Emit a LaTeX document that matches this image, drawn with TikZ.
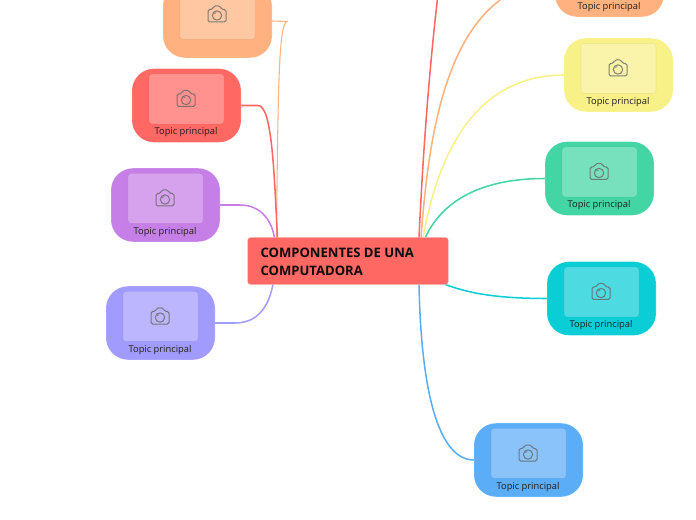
\documentclass[tikz,border=0pt]{standalone}
\usepackage{fontspec}
\setmainfont{Open Sans}
\definecolor{cOrange}{HTML}{FFB27F}
\definecolor{cRed}{HTML}{FF6863}
\definecolor{cPurple}{HTML}{C77FE8}
\definecolor{cLav}{HTML}{A29BFE}
\definecolor{cYellow}{HTML}{F7F188}
\definecolor{cGreen}{HTML}{43D6A4}
\definecolor{cTeal}{HTML}{0ACDD6}
\definecolor{cBlue}{HTML}{5CADF8}
\tikzset{
  x=0.75pt,y=-0.75pt,
  topicbox/.style={rectangle,rounded corners=16.5pt,minimum width=81.75pt,minimum height=55.2pt,inner sep=0pt,fill=#1,draw=white,draw opacity=.25,line width=.4pt},
  imgbox/.style={rectangle,rounded corners=2.5pt,minimum width=56.25pt,minimum height=37.5pt,inner sep=0pt,fill=white,fill opacity=.28,draw=black,draw opacity=.04,line width=.5pt},
  toplabel/.style={inner sep=0pt,font=\fontsize{7pt}{9pt}\selectfont,text=black!88},
  roottext/.style={inner sep=0pt,align=left,font=\fontsize{9.8pt}{13.5pt}\selectfont\bfseries,text=black!95},
  rootbox/.style={rectangle,rounded corners=2.2pt,minimum width=150.5pt,minimum height=35.5pt,inner sep=0pt,fill=cRed,draw=white,draw opacity=.5,line width=.4pt},
  link/.style={line width=1.15pt,draw=#1},
  camline/.style={draw=black!60,draw opacity=.8,line width=.75pt},
}
\newcommand{\camicon}[2]{%
  \begin{scope}[shift={(#1,#2)}]
    \draw[camline,rounded corners=1.2pt] (-9,-4.5) -- (-4.5,-4.5) -- (-3.3,-8) -- (3.3,-8) -- (4.5,-4.5) -- (9,-4.5) -- (9,8) -- (-9,8) -- cycle;
    \draw[camline] (0,1.5) circle[radius=3.5pt];
    \draw[camline,line width=.5pt] (-2.6,-0.4) -- (-0.8,-1.5);
  \end{scope}}
\newcommand{\topicbody}[4]{%
  \node[topicbox=#2] (#1) at (#3,#4) {};
  \node[imgbox] (#1img) at ([yshift=4.9pt]#1.center) {};
  \camicon{#3-0.5}{#4-7}}
\newcommand{\topicnode}[4]{%
  \topicbody{#1}{#2}{#3}{#4}
  \node[toplabel] (#1lab) at (#3-0.5,#4+26.8) {Topic principal};}
\begin{document}
\begin{tikzpicture}
\useasboundingbox (0,0) rectangle (696,520);
\clip (0,0) rectangle (696,520);
\node[rootbox] (root) at (348,261) {};
\coordinate (rTopA) at (277.5,238);
\coordinate (rTopB) at (276.5,238);
\coordinate (rTopC) at (274.5,238);
\coordinate (rBotD) at (273,284);
\coordinate (rTopE) at (419,238);
\coordinate (rTopF) at (421,238);
\coordinate (rTopG) at (423,238);
\coordinate (rTopH) at (425,238);
\coordinate (rBotI) at (444,284);
\coordinate (rBotJ) at (419,284);
\coordinate (offRed) at (441,-30);
\coordinate (orangeL) at (272,21);
\coordinate (redL) at (241,105.5);
\coordinate (purpleL) at (220,205);
\coordinate (lavL) at (215,323);
\coordinate (orangeR) at (555,-20);
\coordinate (yellowR) at (564,75);
\coordinate (greenR) at (545,178.5);
\coordinate (tealR) at (547,298.5);
\coordinate (blueR) at (474,460);
\draw[link=cOrange,line width=.8pt] (orangeL) -- (287,21.5) .. controls (279,24) and (278,80) .. (rTopB);
\draw[link=cRed] (redL) -- (258,105.5) .. controls (272,105.5) and (274,170) .. (rTopA);
\draw[link=cPurple] (purpleL) -- (240,205) .. controls (262,205) and (272,222) .. (rTopC);
\draw[link=cLav] (lavL) -- (235,323) .. controls (258,323) and (269,306) .. (rBotD);
\draw[link=cRed] (rTopE) .. controls (424,130) and (432,40) .. (offRed);
\draw[link=cOrange] (rTopF) .. controls (429,130) and (448,-12) .. (orangeR);
\draw[link=cYellow] (rTopG) .. controls (442,130) and (490,75) .. (yellowR);
\draw[link=cGreen] (rTopH) .. controls (445,195) and (490,178.5) .. (greenR);
\draw[link=cTeal] (rBotI) .. controls (470,294) and (500,298.5) .. (tealR);
\draw[link=cBlue] (rBotJ) .. controls (421,390) and (438,460) .. (blueR);
\node[rootbox] (rootfront) at (348,261) {};
\node[roottext,anchor=west] (roottitle) at (260.3,262) {COMPONENTES DE UNA\\COMPUTADORA};
\topicbody{orangeA}{cOrange}{217.5}{21}
\topicnode{redA}{cRed}{186.5}{105.5}
\topicnode{purpleA}{cPurple}{165.5}{205}
\topicnode{lavA}{cLav}{160.5}{323}
\topicnode{orangeB}{cOrange}{609.5}{-20}
\topicnode{yellowA}{cYellow}{618.5}{75}
\topicnode{greenA}{cGreen}{599.5}{178.5}
\topicnode{tealA}{cTeal}{601.5}{298.5}
\topicnode{blueA}{cBlue}{528.5}{460}
\end{tikzpicture}
\end{document}
